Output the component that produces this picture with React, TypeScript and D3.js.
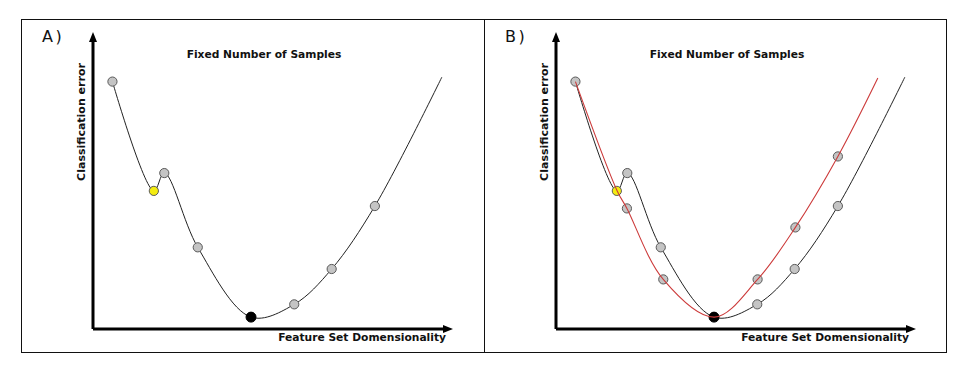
import React from "react";
import * as d3 from "d3";

// Black curve (fixed number of samples) – control points
const blackX = [5.4, 16.9, 19.8, 29.1, 43.9, 55.9, 66.3, 78.3, 96.9];
const blackY = [83.3, 46.5, 52.5, 27.5, 4.0, 8.3, 20.2, 41.4, 84.8];
const blackMarks = ["grey", "yellow", "grey", "grey", "black", "grey", "grey", "grey", "none"];

// Red curve (panel B)
const redX = [5.4, 17.0, 19.7, 29.8, 44.0, 56.0, 66.5, 78.3, 89.4];
const redY = [83.3, 46.5, 40.6, 16.7, 4.0, 16.7, 34.2, 58.1, 84.5];
const redMarks = ["none", "none", "grey", "grey", "none", "grey", "grey", "grey", "none"];

const panelLabels = ["A)", "B)"];
const titleText = "Fixed Number of Samples";
const yLabel = "Classification error";
const xLabel = "Feature Set Domensionality";

const W = 960, H = 370;
const FONT = "'DejaVu Sans', Verdana, sans-serif";

function Panel({ originX, label, showRed }: { originX: number; label: string; showRed: boolean }) {
  const x = d3.scaleLinear().domain([0, 100]).range([originX, originX + 360]);
  const y = d3.scaleLinear().domain([0, 100]).range([329, 32]);
  const line = d3
    .line<[number, number]>()
    .x((d) => x(d[0]))
    .y((d) => y(d[1]))
    .curve(d3.curveCatmullRom.alpha(0.5));
  const blackPts: [number, number][] = blackX.map((v, i) => [v, blackY[i]]);
  const redPts: [number, number][] = redX.map((v, i) => [v, redY[i]]);
  const x0 = x(0), y0 = y(0);
  const xEnd = x(100), yEnd = y(100);
  const fills: Record<string, string> = { grey: "#c4c4c4", yellow: "#f4ec10", black: "#000" };
  const marker = (px: number, py: number, kind: string, key: string) =>
    kind === "none" ? null : (
      <circle
        key={key}
        cx={px}
        cy={py}
        r={kind === "black" ? 5 : 4.6}
        fill={fills[kind]}
        stroke={kind === "black" ? "#000" : "#5a5a5a"}
        strokeWidth={1}
      />
    );
  return (
    <g>
      <text x={originX - 51} y={42} fontFamily={FONT} fontSize={16} letterSpacing={2.5} fill="#111">
        {label}
      </text>
      <text x={originX + 171} y={57.5} textAnchor="middle" fontFamily={FONT} fontWeight="bold" fontSize={10.7} fill="#111">
        {titleText}
      </text>
      <text
        transform={`translate(${originX - 8.5},122) rotate(-90)`}
        textAnchor="middle"
        fontFamily={FONT}
        fontWeight="bold"
        fontSize={11}
        fill="#111"
      >
        {yLabel}
      </text>
      <text x={originX + 353} y={341} textAnchor="end" fontFamily={FONT} fontWeight="bold" fontSize={10.7} fill="#111">
        {xLabel}
      </text>
      <line x1={x0} y1={y0} x2={x0} y2={yEnd + 8} stroke="#000" strokeWidth={3} />
      <line x1={x0} y1={y0} x2={xEnd - 8} y2={y0} stroke="#000" strokeWidth={3} />
      <path d={`M${x0 - 4},${yEnd + 10} L${x0},${yEnd} L${x0 + 4},${yEnd + 10} Z`} fill="#000" />
      <path d={`M${xEnd - 10},${y0 - 4} L${xEnd},${y0} L${xEnd - 10},${y0 + 4} Z`} fill="#000" />
      <path d={line(blackPts) || ""} fill="none" stroke="#222" strokeWidth={1} />
      {blackPts.map((p, i) => marker(x(p[0]), y(p[1]), blackMarks[i], `b${i}`))}
      {showRed && (
        <g>
          {redPts.map((p, i) => marker(x(p[0]), y(p[1]), redMarks[i], `r${i}`))}
          <path d={line(redPts) || ""} fill="none" stroke="#cc3a3a" strokeWidth={1.1} />
        </g>
      )}
    </g>
  );
}

export default function App() {
  return (
    <svg width={W} height={H} style={{ position: "absolute", left: 0, top: 0, background: "#fff" }}>
      <rect x={0} y={0} width={W} height={H} fill="#fff" />
      <rect x={21.5} y={19.5} width={925} height={333} fill="none" stroke="#111" strokeWidth={1} />
      <line x1={484.5} y1={19.5} x2={484.5} y2={352.5} stroke="#111" strokeWidth={1} />
      <Panel originX={93} label={panelLabels[0]} showRed={false} />
      <Panel originX={556} label={panelLabels[1]} showRed={true} />
    </svg>
  );
}
